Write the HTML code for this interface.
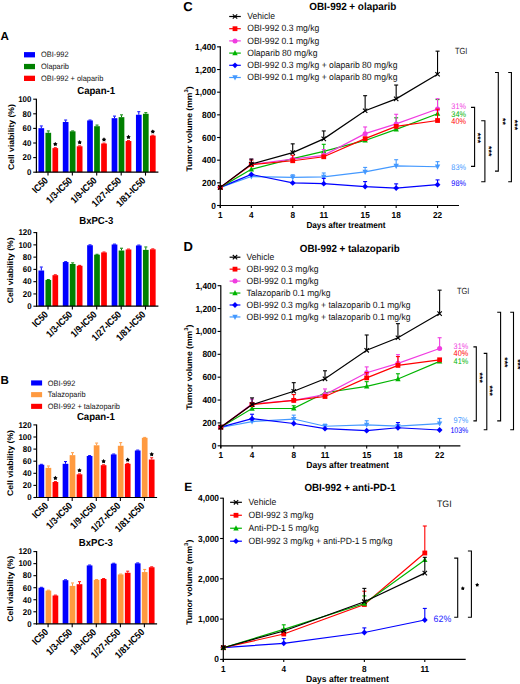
<!DOCTYPE html>
<html><head><meta charset="utf-8"><style>
html,body{margin:0;padding:0;background:#fff;width:520px;height:684px;overflow:hidden}
svg{display:block}
text{font-family:"Liberation Sans", sans-serif;text-rendering:geometricPrecision}
</style></head><body>
<svg width="520" height="684" viewBox="0 0 520 684">
<rect width="520" height="684" fill="#fff"/>
<text x="0" y="0" font-size="11.6" font-weight="bold" text-anchor="start" fill="#000" transform="translate(0.5 40.2) scale(1 1)">A</text>
<rect x="24" y="52.1" width="11" height="5.3" fill="#0000ff"/>
<text x="0" y="0" font-size="7.4" text-anchor="start" fill="#111" transform="translate(41 57.4) scale(1 1.06)">OBI-992</text>
<rect x="24" y="63.9" width="11" height="5.3" fill="#008000"/>
<text x="0" y="0" font-size="7.4" text-anchor="start" fill="#111" transform="translate(41 69.2) scale(1 1.06)">Olaparib</text>
<rect x="24" y="75.7" width="11" height="5.3" fill="#ff0000"/>
<text x="0" y="0" font-size="7.4" text-anchor="start" fill="#111" transform="translate(41 81) scale(1 1.06)">OBI-992 + olaparib</text>
<rect x="38.45" y="128.18" width="5.7" height="44.02" fill="#0000ff"/>
<line x1="41.3" y1="126.36" x2="41.3" y2="128.18" stroke="#0000ff" stroke-width="1"/>
<rect x="39.8" y="125.46" width="3" height="1" fill="#0000ff"/>
<rect x="45.45" y="132.78" width="5.7" height="39.42" fill="#008000"/>
<line x1="48.3" y1="131.32" x2="48.3" y2="132.78" stroke="#008000" stroke-width="1"/>
<rect x="46.8" y="130.42" width="3" height="1" fill="#008000"/>
<rect x="52.45" y="148.11" width="5.7" height="24.09" fill="#ff0000"/>
<rect x="53.8" y="147.21" width="3" height="1" fill="#ff0000"/>
<polygon points="55.3,141.91 56.11,143.09 57.49,143.5 56.61,144.64 56.65,146.07 55.3,145.59 53.95,146.07 53.99,144.64 53.11,143.5 54.49,143.09" fill="#000"/>
<rect x="62.8" y="121.98" width="5.7" height="50.22" fill="#0000ff"/>
<line x1="65.65" y1="120.44" x2="65.65" y2="121.98" stroke="#0000ff" stroke-width="1"/>
<rect x="64.15" y="119.54" width="3" height="1" fill="#0000ff"/>
<rect x="69.8" y="131.32" width="5.7" height="40.88" fill="#008000"/>
<rect x="71.15" y="130.42" width="3" height="1" fill="#008000"/>
<rect x="76.8" y="146.28" width="5.7" height="25.91" fill="#ff0000"/>
<rect x="78.15" y="145.38" width="3" height="1" fill="#ff0000"/>
<polygon points="79.65,140.08 80.46,141.27 81.84,141.67 80.96,142.81 81,144.25 79.65,143.76 78.3,144.25 78.34,142.81 77.46,141.67 78.84,141.27" fill="#000"/>
<rect x="87.15" y="120.44" width="5.7" height="51.76" fill="#0000ff"/>
<rect x="88.5" y="119.54" width="3" height="1" fill="#0000ff"/>
<rect x="94.15" y="126.21" width="5.7" height="45.99" fill="#008000"/>
<line x1="97" y1="125.48" x2="97" y2="126.21" stroke="#008000" stroke-width="1"/>
<rect x="95.5" y="124.58" width="3" height="1" fill="#008000"/>
<rect x="101.15" y="143.51" width="5.7" height="28.69" fill="#ff0000"/>
<rect x="102.5" y="142.61" width="3" height="1" fill="#ff0000"/>
<polygon points="104,137.31 104.81,138.49 106.19,138.9 105.31,140.04 105.35,141.47 104,140.99 102.65,141.47 102.69,140.04 101.81,138.9 103.19,138.49" fill="#000"/>
<rect x="111.65" y="118.18" width="5.7" height="54.02" fill="#0000ff"/>
<line x1="114.5" y1="116.5" x2="114.5" y2="118.18" stroke="#0000ff" stroke-width="1"/>
<rect x="113" y="115.6" width="3" height="1" fill="#0000ff"/>
<rect x="118.65" y="117.16" width="5.7" height="55.04" fill="#008000"/>
<line x1="121.5" y1="115.26" x2="121.5" y2="117.16" stroke="#008000" stroke-width="1"/>
<rect x="120" y="114.36" width="3" height="1" fill="#008000"/>
<rect x="125.65" y="141.03" width="5.7" height="31.17" fill="#ff0000"/>
<rect x="127" y="140.13" width="3" height="1" fill="#ff0000"/>
<polygon points="128.5,134.83 129.31,136.01 130.69,136.42 129.81,137.56 129.85,138.99 128.5,138.51 127.15,138.99 127.19,137.56 126.31,136.42 127.69,136.01" fill="#000"/>
<rect x="135.95" y="114.75" width="5.7" height="57.45" fill="#0000ff"/>
<line x1="138.8" y1="112.12" x2="138.8" y2="114.75" stroke="#0000ff" stroke-width="1"/>
<rect x="137.3" y="111.22" width="3" height="1" fill="#0000ff"/>
<rect x="142.95" y="113.8" width="5.7" height="58.4" fill="#008000"/>
<line x1="145.8" y1="113.07" x2="145.8" y2="113.8" stroke="#008000" stroke-width="1"/>
<rect x="144.3" y="112.17" width="3" height="1" fill="#008000"/>
<rect x="149.95" y="135.63" width="5.7" height="36.57" fill="#ff0000"/>
<rect x="151.3" y="134.73" width="3" height="1" fill="#ff0000"/>
<polygon points="152.8,129.43 153.61,130.61 154.99,131.02 154.11,132.15 154.15,133.59 152.8,133.11 151.45,133.59 151.49,132.15 150.61,131.02 151.99,130.61" fill="#000"/>
<line x1="36.4" y1="98.7" x2="36.4" y2="172.8" stroke="#000" stroke-width="1.2"/>
<line x1="35.8" y1="172.2" x2="158.4" y2="172.2" stroke="#000" stroke-width="1.2"/>
<line x1="33.2" y1="172.2" x2="36.4" y2="172.2" stroke="#000" stroke-width="1.1"/>
<text x="0" y="0" font-size="7.9" font-weight="bold" text-anchor="end" fill="#000" transform="translate(31.4 175) scale(1 1.06)">0</text>
<line x1="33.2" y1="157.6" x2="36.4" y2="157.6" stroke="#000" stroke-width="1.1"/>
<text x="0" y="0" font-size="7.9" font-weight="bold" text-anchor="end" fill="#000" transform="translate(31.4 160.4) scale(1 1.06)">20</text>
<line x1="33.2" y1="143" x2="36.4" y2="143" stroke="#000" stroke-width="1.1"/>
<text x="0" y="0" font-size="7.9" font-weight="bold" text-anchor="end" fill="#000" transform="translate(31.4 145.8) scale(1 1.06)">40</text>
<line x1="33.2" y1="128.4" x2="36.4" y2="128.4" stroke="#000" stroke-width="1.1"/>
<text x="0" y="0" font-size="7.9" font-weight="bold" text-anchor="end" fill="#000" transform="translate(31.4 131.2) scale(1 1.06)">60</text>
<line x1="33.2" y1="113.8" x2="36.4" y2="113.8" stroke="#000" stroke-width="1.1"/>
<text x="0" y="0" font-size="7.9" font-weight="bold" text-anchor="end" fill="#000" transform="translate(31.4 116.6) scale(1 1.06)">80</text>
<line x1="33.2" y1="99.2" x2="36.4" y2="99.2" stroke="#000" stroke-width="1.1"/>
<text x="0" y="0" font-size="7.9" font-weight="bold" text-anchor="end" fill="#000" transform="translate(31.4 102) scale(1 1.06)">100</text>
<line x1="48" y1="172.2" x2="48" y2="175.6" stroke="#000" stroke-width="1.1"/>
<text x="0" y="0" font-size="8.45" font-weight="bold" text-anchor="end" fill="#000" transform="translate(48.6 181.2) rotate(-45) scale(1 1.14)">IC50</text>
<line x1="72.35" y1="172.2" x2="72.35" y2="175.6" stroke="#000" stroke-width="1.1"/>
<text x="0" y="0" font-size="8.45" font-weight="bold" text-anchor="end" fill="#000" transform="translate(72.95 181.2) rotate(-45) scale(1 1.14)">1/3-IC50</text>
<line x1="96.7" y1="172.2" x2="96.7" y2="175.6" stroke="#000" stroke-width="1.1"/>
<text x="0" y="0" font-size="8.45" font-weight="bold" text-anchor="end" fill="#000" transform="translate(97.3 181.2) rotate(-45) scale(1 1.14)">1/9-IC50</text>
<line x1="121.2" y1="172.2" x2="121.2" y2="175.6" stroke="#000" stroke-width="1.1"/>
<text x="0" y="0" font-size="8.45" font-weight="bold" text-anchor="end" fill="#000" transform="translate(121.8 181.2) rotate(-45) scale(1 1.14)">1/27-IC50</text>
<line x1="145.5" y1="172.2" x2="145.5" y2="175.6" stroke="#000" stroke-width="1.1"/>
<text x="0" y="0" font-size="8.45" font-weight="bold" text-anchor="end" fill="#000" transform="translate(146.1 181.2) rotate(-45) scale(1 1.14)">1/81-IC50</text>
<text x="0" y="0" font-size="8.11" font-weight="bold" text-anchor="middle" fill="#000" transform="translate(14 137.1) scale(1 1.06) rotate(-90)">Cell viability (%)</text>
<text x="0" y="0" font-size="9.6" font-weight="bold" text-anchor="start" fill="#000" transform="translate(77.2 94.3) scale(1 1.06)">Capan-1</text>
<rect x="38.45" y="270.5" width="5.7" height="35.7" fill="#0000ff"/>
<line x1="41.3" y1="267.44" x2="41.3" y2="270.5" stroke="#0000ff" stroke-width="1"/>
<rect x="39.8" y="266.54" width="3" height="1" fill="#0000ff"/>
<rect x="45.45" y="279.95" width="5.7" height="26.25" fill="#008000"/>
<rect x="46.8" y="279.05" width="3" height="1" fill="#008000"/>
<rect x="52.45" y="275.17" width="5.7" height="31.03" fill="#ff0000"/>
<rect x="53.8" y="274.27" width="3" height="1" fill="#ff0000"/>
<rect x="62.8" y="262.04" width="5.7" height="44.16" fill="#0000ff"/>
<rect x="64.15" y="261.14" width="3" height="1" fill="#0000ff"/>
<rect x="69.8" y="264" width="5.7" height="42.2" fill="#008000"/>
<line x1="72.65" y1="263.27" x2="72.65" y2="264" stroke="#008000" stroke-width="1"/>
<rect x="71.15" y="262.37" width="3" height="1" fill="#008000"/>
<rect x="76.8" y="265.78" width="5.7" height="40.42" fill="#ff0000"/>
<rect x="78.15" y="264.88" width="3" height="1" fill="#ff0000"/>
<rect x="87.15" y="245.23" width="5.7" height="60.97" fill="#0000ff"/>
<rect x="88.5" y="244.33" width="3" height="1" fill="#0000ff"/>
<rect x="94.15" y="254.68" width="5.7" height="51.52" fill="#008000"/>
<rect x="95.5" y="253.78" width="3" height="1" fill="#008000"/>
<rect x="101.15" y="252.41" width="5.7" height="53.79" fill="#ff0000"/>
<rect x="102.5" y="251.51" width="3" height="1" fill="#ff0000"/>
<rect x="111.65" y="244.5" width="5.7" height="61.7" fill="#0000ff"/>
<rect x="113" y="243.6" width="3" height="1" fill="#0000ff"/>
<rect x="118.65" y="250.51" width="5.7" height="55.69" fill="#008000"/>
<line x1="121.5" y1="248.61" x2="121.5" y2="250.51" stroke="#008000" stroke-width="1"/>
<rect x="120" y="247.71" width="3" height="1" fill="#008000"/>
<rect x="125.65" y="249.47" width="5.7" height="56.73" fill="#ff0000"/>
<rect x="127" y="248.57" width="3" height="1" fill="#ff0000"/>
<rect x="135.95" y="245.48" width="5.7" height="60.72" fill="#0000ff"/>
<rect x="137.3" y="244.58" width="3" height="1" fill="#0000ff"/>
<rect x="142.95" y="249.9" width="5.7" height="56.3" fill="#008000"/>
<line x1="145.8" y1="247.38" x2="145.8" y2="249.9" stroke="#008000" stroke-width="1"/>
<rect x="144.3" y="246.48" width="3" height="1" fill="#008000"/>
<rect x="149.95" y="249.28" width="5.7" height="56.92" fill="#ff0000"/>
<rect x="151.3" y="248.38" width="3" height="1" fill="#ff0000"/>
<line x1="36.6" y1="232.1" x2="36.6" y2="306.8" stroke="#000" stroke-width="1.2"/>
<line x1="36" y1="306.2" x2="158.4" y2="306.2" stroke="#000" stroke-width="1.2"/>
<line x1="33.4" y1="306.2" x2="36.6" y2="306.2" stroke="#000" stroke-width="1.1"/>
<text x="0" y="0" font-size="7.9" font-weight="bold" text-anchor="end" fill="#000" transform="translate(31.6 309) scale(1 1.06)">0</text>
<line x1="33.4" y1="293.93" x2="36.6" y2="293.93" stroke="#000" stroke-width="1.1"/>
<text x="0" y="0" font-size="7.9" font-weight="bold" text-anchor="end" fill="#000" transform="translate(31.6 296.73) scale(1 1.06)">20</text>
<line x1="33.4" y1="281.67" x2="36.6" y2="281.67" stroke="#000" stroke-width="1.1"/>
<text x="0" y="0" font-size="7.9" font-weight="bold" text-anchor="end" fill="#000" transform="translate(31.6 284.47) scale(1 1.06)">40</text>
<line x1="33.4" y1="269.4" x2="36.6" y2="269.4" stroke="#000" stroke-width="1.1"/>
<text x="0" y="0" font-size="7.9" font-weight="bold" text-anchor="end" fill="#000" transform="translate(31.6 272.2) scale(1 1.06)">60</text>
<line x1="33.4" y1="257.13" x2="36.6" y2="257.13" stroke="#000" stroke-width="1.1"/>
<text x="0" y="0" font-size="7.9" font-weight="bold" text-anchor="end" fill="#000" transform="translate(31.6 259.93) scale(1 1.06)">80</text>
<line x1="33.4" y1="244.87" x2="36.6" y2="244.87" stroke="#000" stroke-width="1.1"/>
<text x="0" y="0" font-size="7.9" font-weight="bold" text-anchor="end" fill="#000" transform="translate(31.6 247.67) scale(1 1.06)">100</text>
<line x1="33.4" y1="232.6" x2="36.6" y2="232.6" stroke="#000" stroke-width="1.1"/>
<text x="0" y="0" font-size="7.9" font-weight="bold" text-anchor="end" fill="#000" transform="translate(31.6 235.4) scale(1 1.06)">120</text>
<line x1="48" y1="306.2" x2="48" y2="309.6" stroke="#000" stroke-width="1.1"/>
<text x="0" y="0" font-size="8.45" font-weight="bold" text-anchor="end" fill="#000" transform="translate(48.6 315.2) rotate(-45) scale(1 1.14)">IC50</text>
<line x1="72.35" y1="306.2" x2="72.35" y2="309.6" stroke="#000" stroke-width="1.1"/>
<text x="0" y="0" font-size="8.45" font-weight="bold" text-anchor="end" fill="#000" transform="translate(72.95 315.2) rotate(-45) scale(1 1.14)">1/3-IC50</text>
<line x1="96.7" y1="306.2" x2="96.7" y2="309.6" stroke="#000" stroke-width="1.1"/>
<text x="0" y="0" font-size="8.45" font-weight="bold" text-anchor="end" fill="#000" transform="translate(97.3 315.2) rotate(-45) scale(1 1.14)">1/9-IC50</text>
<line x1="121.2" y1="306.2" x2="121.2" y2="309.6" stroke="#000" stroke-width="1.1"/>
<text x="0" y="0" font-size="8.45" font-weight="bold" text-anchor="end" fill="#000" transform="translate(121.8 315.2) rotate(-45) scale(1 1.14)">1/27-IC50</text>
<line x1="145.5" y1="306.2" x2="145.5" y2="309.6" stroke="#000" stroke-width="1.1"/>
<text x="0" y="0" font-size="8.45" font-weight="bold" text-anchor="end" fill="#000" transform="translate(146.1 315.2) rotate(-45) scale(1 1.14)">1/81-IC50</text>
<text x="0" y="0" font-size="8.11" font-weight="bold" text-anchor="middle" fill="#000" transform="translate(13 270.4) scale(1 1.06) rotate(-90)">Cell viability (%)</text>
<text x="0" y="0" font-size="9.6" font-weight="bold" text-anchor="start" fill="#000" transform="translate(79.2 224.2) scale(1 1.06)">BxPC-3</text>
<text x="0" y="0" font-size="11.6" font-weight="bold" text-anchor="start" fill="#000" transform="translate(0.5 384.4) scale(1 1)">B</text>
<rect x="31.1" y="380.4" width="11" height="5.1" fill="#0000ff"/>
<text x="0" y="0" font-size="7.4" text-anchor="start" fill="#111" transform="translate(47.8 385.7) scale(1 1.06)">OBI-992</text>
<rect x="31.1" y="392.1" width="11" height="5.1" fill="#ff9a40"/>
<text x="0" y="0" font-size="7.4" text-anchor="start" fill="#111" transform="translate(47.8 397.4) scale(1 1.06)">Talazoparib</text>
<rect x="31.1" y="403.8" width="11" height="5.1" fill="#ff0000"/>
<text x="0" y="0" font-size="7.4" text-anchor="start" fill="#111" transform="translate(47.8 409.1) scale(1 1.06)">OBI-992 + talazoparib</text>
<rect x="38.55" y="464.71" width="5.7" height="32.79" fill="#0000ff"/>
<rect x="39.9" y="463.81" width="3" height="1" fill="#0000ff"/>
<rect x="45.55" y="467.86" width="5.7" height="29.64" fill="#ff9a40"/>
<line x1="48.4" y1="466.4" x2="48.4" y2="467.86" stroke="#ff9a40" stroke-width="1"/>
<rect x="46.9" y="465.5" width="3" height="1" fill="#ff9a40"/>
<rect x="52.55" y="482.01" width="5.7" height="15.49" fill="#ff0000"/>
<rect x="53.9" y="481.11" width="3" height="1" fill="#ff0000"/>
<polygon points="55.4,475.81 56.21,477 57.59,477.4 56.71,478.54 56.75,479.97 55.4,479.49 54.05,479.97 54.09,478.54 53.21,477.4 54.59,477" fill="#000"/>
<rect x="62.65" y="463.8" width="5.7" height="33.7" fill="#0000ff"/>
<line x1="65.5" y1="461.99" x2="65.5" y2="463.8" stroke="#0000ff" stroke-width="1"/>
<rect x="64" y="461.09" width="3" height="1" fill="#0000ff"/>
<rect x="69.65" y="455.15" width="5.7" height="42.35" fill="#ff9a40"/>
<line x1="72.5" y1="453.09" x2="72.5" y2="455.15" stroke="#ff9a40" stroke-width="1"/>
<rect x="71" y="452.19" width="3" height="1" fill="#ff9a40"/>
<rect x="76.65" y="474.33" width="5.7" height="23.17" fill="#ff0000"/>
<rect x="78" y="473.43" width="3" height="1" fill="#ff0000"/>
<polygon points="79.5,468.13 80.31,469.31 81.69,469.72 80.81,470.85 80.85,472.29 79.5,471.81 78.15,472.29 78.19,470.85 77.31,469.72 78.69,469.31" fill="#000"/>
<rect x="86.75" y="456" width="5.7" height="41.5" fill="#0000ff"/>
<rect x="88.1" y="455.1" width="3" height="1" fill="#0000ff"/>
<rect x="93.75" y="445.29" width="5.7" height="52.21" fill="#ff9a40"/>
<line x1="96.6" y1="443.47" x2="96.6" y2="445.29" stroke="#ff9a40" stroke-width="1"/>
<rect x="95.1" y="442.57" width="3" height="1" fill="#ff9a40"/>
<rect x="100.75" y="465.19" width="5.7" height="32.31" fill="#ff0000"/>
<rect x="102.1" y="464.29" width="3" height="1" fill="#ff0000"/>
<polygon points="103.6,458.99 104.41,460.18 105.79,460.58 104.91,461.72 104.95,463.15 103.6,462.67 102.25,463.15 102.29,461.72 101.41,460.58 102.79,460.18" fill="#000"/>
<rect x="110.85" y="454.42" width="5.7" height="43.08" fill="#0000ff"/>
<rect x="112.2" y="453.52" width="3" height="1" fill="#0000ff"/>
<rect x="117.85" y="445.77" width="5.7" height="51.73" fill="#ff9a40"/>
<line x1="120.7" y1="443.05" x2="120.7" y2="445.77" stroke="#ff9a40" stroke-width="1"/>
<rect x="119.2" y="442.15" width="3" height="1" fill="#ff9a40"/>
<rect x="124.85" y="463.8" width="5.7" height="33.7" fill="#ff0000"/>
<rect x="126.2" y="462.9" width="3" height="1" fill="#ff0000"/>
<polygon points="127.7,457.6 128.51,458.79 129.89,459.19 129.01,460.33 129.05,461.76 127.7,461.28 126.35,461.76 126.39,460.33 125.51,459.19 126.89,458.79" fill="#000"/>
<rect x="134.85" y="450.49" width="5.7" height="47.01" fill="#0000ff"/>
<rect x="136.2" y="449.59" width="3" height="1" fill="#0000ff"/>
<rect x="141.85" y="437.79" width="5.7" height="59.71" fill="#ff9a40"/>
<rect x="143.2" y="436.89" width="3" height="1" fill="#ff9a40"/>
<rect x="148.85" y="459.51" width="5.7" height="37.99" fill="#ff0000"/>
<line x1="151.7" y1="458.18" x2="151.7" y2="459.51" stroke="#ff0000" stroke-width="1"/>
<rect x="150.2" y="457.28" width="3" height="1" fill="#ff0000"/>
<polygon points="151.7,451.98 152.51,453.16 153.89,453.56 153.01,454.7 153.05,456.14 151.7,455.66 150.35,456.14 150.39,454.7 149.51,453.56 150.89,453.16" fill="#000"/>
<line x1="36.6" y1="424.4" x2="36.6" y2="498.1" stroke="#000" stroke-width="1.2"/>
<line x1="36" y1="497.5" x2="157.1" y2="497.5" stroke="#000" stroke-width="1.2"/>
<line x1="33.4" y1="497.5" x2="36.6" y2="497.5" stroke="#000" stroke-width="1.1"/>
<text x="0" y="0" font-size="7.9" font-weight="bold" text-anchor="end" fill="#000" transform="translate(31.6 500.3) scale(1 1.06)">0</text>
<line x1="33.4" y1="485.4" x2="36.6" y2="485.4" stroke="#000" stroke-width="1.1"/>
<text x="0" y="0" font-size="7.9" font-weight="bold" text-anchor="end" fill="#000" transform="translate(31.6 488.2) scale(1 1.06)">20</text>
<line x1="33.4" y1="473.3" x2="36.6" y2="473.3" stroke="#000" stroke-width="1.1"/>
<text x="0" y="0" font-size="7.9" font-weight="bold" text-anchor="end" fill="#000" transform="translate(31.6 476.1) scale(1 1.06)">40</text>
<line x1="33.4" y1="461.2" x2="36.6" y2="461.2" stroke="#000" stroke-width="1.1"/>
<text x="0" y="0" font-size="7.9" font-weight="bold" text-anchor="end" fill="#000" transform="translate(31.6 464) scale(1 1.06)">60</text>
<line x1="33.4" y1="449.1" x2="36.6" y2="449.1" stroke="#000" stroke-width="1.1"/>
<text x="0" y="0" font-size="7.9" font-weight="bold" text-anchor="end" fill="#000" transform="translate(31.6 451.9) scale(1 1.06)">80</text>
<line x1="33.4" y1="437" x2="36.6" y2="437" stroke="#000" stroke-width="1.1"/>
<text x="0" y="0" font-size="7.9" font-weight="bold" text-anchor="end" fill="#000" transform="translate(31.6 439.8) scale(1 1.06)">100</text>
<line x1="33.4" y1="424.9" x2="36.6" y2="424.9" stroke="#000" stroke-width="1.1"/>
<text x="0" y="0" font-size="7.9" font-weight="bold" text-anchor="end" fill="#000" transform="translate(31.6 427.7) scale(1 1.06)">120</text>
<line x1="48.1" y1="497.5" x2="48.1" y2="500.9" stroke="#000" stroke-width="1.1"/>
<text x="0" y="0" font-size="8.45" font-weight="bold" text-anchor="end" fill="#000" transform="translate(48.7 506.5) rotate(-45) scale(1 1.14)">IC50</text>
<line x1="72.2" y1="497.5" x2="72.2" y2="500.9" stroke="#000" stroke-width="1.1"/>
<text x="0" y="0" font-size="8.45" font-weight="bold" text-anchor="end" fill="#000" transform="translate(72.8 506.5) rotate(-45) scale(1 1.14)">1/3-IC50</text>
<line x1="96.3" y1="497.5" x2="96.3" y2="500.9" stroke="#000" stroke-width="1.1"/>
<text x="0" y="0" font-size="8.45" font-weight="bold" text-anchor="end" fill="#000" transform="translate(96.9 506.5) rotate(-45) scale(1 1.14)">1/9-IC50</text>
<line x1="120.4" y1="497.5" x2="120.4" y2="500.9" stroke="#000" stroke-width="1.1"/>
<text x="0" y="0" font-size="8.45" font-weight="bold" text-anchor="end" fill="#000" transform="translate(121 506.5) rotate(-45) scale(1 1.14)">1/27-IC50</text>
<line x1="144.4" y1="497.5" x2="144.4" y2="500.9" stroke="#000" stroke-width="1.1"/>
<text x="0" y="0" font-size="8.45" font-weight="bold" text-anchor="end" fill="#000" transform="translate(145 506.5) rotate(-45) scale(1 1.14)">1/81-IC50</text>
<text x="0" y="0" font-size="8.11" font-weight="bold" text-anchor="middle" fill="#000" transform="translate(13 463) scale(1 1.06) rotate(-90)">Cell viability (%)</text>
<text x="0" y="0" font-size="9.6" font-weight="bold" text-anchor="start" fill="#000" transform="translate(76.9 420.4) scale(1 1.06)">Capan-1</text>
<rect x="38.55" y="587.7" width="5.7" height="36.1" fill="#0000ff"/>
<rect x="39.9" y="586.8" width="3" height="1" fill="#0000ff"/>
<rect x="45.55" y="590.59" width="5.7" height="33.21" fill="#ff9a40"/>
<rect x="46.9" y="589.69" width="3" height="1" fill="#ff9a40"/>
<rect x="52.55" y="595.52" width="5.7" height="28.28" fill="#ff0000"/>
<rect x="53.9" y="594.62" width="3" height="1" fill="#ff0000"/>
<rect x="62.65" y="580.18" width="5.7" height="43.62" fill="#0000ff"/>
<rect x="64" y="579.28" width="3" height="1" fill="#0000ff"/>
<rect x="69.65" y="585.89" width="5.7" height="37.9" fill="#ff9a40"/>
<line x1="72.5" y1="583.37" x2="72.5" y2="585.89" stroke="#ff9a40" stroke-width="1"/>
<rect x="71" y="582.47" width="3" height="1" fill="#ff9a40"/>
<rect x="76.65" y="584.21" width="5.7" height="39.59" fill="#ff0000"/>
<line x1="79.5" y1="582.1" x2="79.5" y2="584.21" stroke="#ff0000" stroke-width="1"/>
<rect x="78" y="581.2" width="3" height="1" fill="#ff0000"/>
<rect x="86.75" y="565.44" width="5.7" height="58.36" fill="#0000ff"/>
<rect x="88.1" y="564.54" width="3" height="1" fill="#0000ff"/>
<rect x="93.75" y="579.88" width="5.7" height="43.92" fill="#ff9a40"/>
<rect x="95.1" y="578.98" width="3" height="1" fill="#ff9a40"/>
<rect x="100.75" y="578.98" width="5.7" height="44.82" fill="#ff0000"/>
<rect x="102.1" y="578.08" width="3" height="1" fill="#ff0000"/>
<rect x="110.85" y="563.63" width="5.7" height="60.17" fill="#0000ff"/>
<rect x="112.2" y="562.73" width="3" height="1" fill="#0000ff"/>
<rect x="117.85" y="574.46" width="5.7" height="49.34" fill="#ff9a40"/>
<rect x="119.2" y="573.56" width="3" height="1" fill="#ff9a40"/>
<rect x="124.85" y="572.78" width="5.7" height="51.02" fill="#ff0000"/>
<line x1="127.7" y1="571.58" x2="127.7" y2="572.78" stroke="#ff0000" stroke-width="1"/>
<rect x="126.2" y="570.68" width="3" height="1" fill="#ff0000"/>
<rect x="134.85" y="563.33" width="5.7" height="60.47" fill="#0000ff"/>
<rect x="136.2" y="562.43" width="3" height="1" fill="#0000ff"/>
<rect x="141.85" y="572.06" width="5.7" height="51.74" fill="#ff9a40"/>
<line x1="144.7" y1="569.83" x2="144.7" y2="572.06" stroke="#ff9a40" stroke-width="1"/>
<rect x="143.2" y="568.93" width="3" height="1" fill="#ff9a40"/>
<rect x="148.85" y="567.24" width="5.7" height="56.56" fill="#ff0000"/>
<rect x="150.2" y="566.34" width="3" height="1" fill="#ff0000"/>
<line x1="36.6" y1="551.1" x2="36.6" y2="624.4" stroke="#000" stroke-width="1.2"/>
<line x1="36" y1="623.8" x2="157.1" y2="623.8" stroke="#000" stroke-width="1.2"/>
<line x1="33.4" y1="623.8" x2="36.6" y2="623.8" stroke="#000" stroke-width="1.1"/>
<text x="0" y="0" font-size="7.9" font-weight="bold" text-anchor="end" fill="#000" transform="translate(31.6 626.6) scale(1 1.06)">0</text>
<line x1="33.4" y1="611.77" x2="36.6" y2="611.77" stroke="#000" stroke-width="1.1"/>
<text x="0" y="0" font-size="7.9" font-weight="bold" text-anchor="end" fill="#000" transform="translate(31.6 614.57) scale(1 1.06)">20</text>
<line x1="33.4" y1="599.73" x2="36.6" y2="599.73" stroke="#000" stroke-width="1.1"/>
<text x="0" y="0" font-size="7.9" font-weight="bold" text-anchor="end" fill="#000" transform="translate(31.6 602.53) scale(1 1.06)">40</text>
<line x1="33.4" y1="587.7" x2="36.6" y2="587.7" stroke="#000" stroke-width="1.1"/>
<text x="0" y="0" font-size="7.9" font-weight="bold" text-anchor="end" fill="#000" transform="translate(31.6 590.5) scale(1 1.06)">60</text>
<line x1="33.4" y1="575.67" x2="36.6" y2="575.67" stroke="#000" stroke-width="1.1"/>
<text x="0" y="0" font-size="7.9" font-weight="bold" text-anchor="end" fill="#000" transform="translate(31.6 578.47) scale(1 1.06)">80</text>
<line x1="33.4" y1="563.63" x2="36.6" y2="563.63" stroke="#000" stroke-width="1.1"/>
<text x="0" y="0" font-size="7.9" font-weight="bold" text-anchor="end" fill="#000" transform="translate(31.6 566.43) scale(1 1.06)">100</text>
<line x1="33.4" y1="551.6" x2="36.6" y2="551.6" stroke="#000" stroke-width="1.1"/>
<text x="0" y="0" font-size="7.9" font-weight="bold" text-anchor="end" fill="#000" transform="translate(31.6 554.4) scale(1 1.06)">120</text>
<line x1="48.1" y1="623.8" x2="48.1" y2="627.2" stroke="#000" stroke-width="1.1"/>
<text x="0" y="0" font-size="8.45" font-weight="bold" text-anchor="end" fill="#000" transform="translate(48.7 632.8) rotate(-45) scale(1 1.14)">IC50</text>
<line x1="72.2" y1="623.8" x2="72.2" y2="627.2" stroke="#000" stroke-width="1.1"/>
<text x="0" y="0" font-size="8.45" font-weight="bold" text-anchor="end" fill="#000" transform="translate(72.8 632.8) rotate(-45) scale(1 1.14)">1/3-IC50</text>
<line x1="96.3" y1="623.8" x2="96.3" y2="627.2" stroke="#000" stroke-width="1.1"/>
<text x="0" y="0" font-size="8.45" font-weight="bold" text-anchor="end" fill="#000" transform="translate(96.9 632.8) rotate(-45) scale(1 1.14)">1/9-IC50</text>
<line x1="120.4" y1="623.8" x2="120.4" y2="627.2" stroke="#000" stroke-width="1.1"/>
<text x="0" y="0" font-size="8.45" font-weight="bold" text-anchor="end" fill="#000" transform="translate(121 632.8) rotate(-45) scale(1 1.14)">1/27-IC50</text>
<line x1="144.4" y1="623.8" x2="144.4" y2="627.2" stroke="#000" stroke-width="1.1"/>
<text x="0" y="0" font-size="8.45" font-weight="bold" text-anchor="end" fill="#000" transform="translate(145 632.8) rotate(-45) scale(1 1.14)">1/81-IC50</text>
<text x="0" y="0" font-size="8.11" font-weight="bold" text-anchor="middle" fill="#000" transform="translate(13 588.9) scale(1 1.06) rotate(-90)">Cell viability (%)</text>
<text x="0" y="0" font-size="9.6" font-weight="bold" text-anchor="start" fill="#000" transform="translate(78.8 546.2) scale(1 1.06)">BxPC-3</text>
<text x="0" y="0" font-size="13" font-weight="bold" text-anchor="start" fill="#000" transform="translate(183.2 10.6) scale(1 1)">C</text>
<text x="0" y="0" font-size="9.9" font-weight="bold" text-anchor="middle" fill="#000" transform="translate(352.8 10.4) scale(1 1.06)">OBI-992 + olaparib</text>
<line x1="229.2" y1="16.5" x2="240.8" y2="16.5" stroke="#000000" stroke-width="1.2"/>
<path d="M232.8 14.3L237.2 18.7M232.8 18.7L237.2 14.3" stroke="#000000" stroke-width="1.1" fill="none"/>
<text x="0" y="0" font-size="8.6" text-anchor="start" fill="#111" transform="translate(247.2 19.2) scale(1 1.06)">Vehicle</text>
<line x1="229.2" y1="28.7" x2="240.8" y2="28.7" stroke="#ff0000" stroke-width="1.2"/>
<rect x="232.6" y="26.3" width="4.8" height="4.8" fill="#ff0000"/>
<text x="0" y="0" font-size="8.6" text-anchor="start" fill="#111" transform="translate(247.2 31.4) scale(1 1.06)">OBI-992 0.3 mg/kg</text>
<line x1="229.2" y1="40.9" x2="240.8" y2="40.9" stroke="#f03ce0" stroke-width="1.2"/>
<circle cx="235" cy="40.9" r="2.5" fill="#f03ce0"/>
<text x="0" y="0" font-size="8.6" text-anchor="start" fill="#111" transform="translate(247.2 43.6) scale(1 1.06)">OBI-992 0.1 mg/kg</text>
<line x1="229.2" y1="53.1" x2="240.8" y2="53.1" stroke="#00b400" stroke-width="1.2"/>
<path d="M235 50.1L237.7 55.26L232.3 55.26Z" fill="#00b400"/>
<text x="0" y="0" font-size="8.6" text-anchor="start" fill="#111" transform="translate(247.2 55.8) scale(1 1.06)">Olaparib 80 mg/kg</text>
<line x1="229.2" y1="65.3" x2="240.8" y2="65.3" stroke="#0000ff" stroke-width="1.2"/>
<path d="M235 62.4L237.9 65.3L235 68.2L232.1 65.3Z" fill="#0000ff"/>
<text x="0" y="0" font-size="8.6" text-anchor="start" fill="#111" transform="translate(247.2 68) scale(1 1.06)">OBI-992 0.3 mg/kg + olaparib 80 mg/kg</text>
<line x1="229.2" y1="77.5" x2="240.8" y2="77.5" stroke="#4499ff" stroke-width="1.2"/>
<path d="M235 80.5L237.7 75.34L232.3 75.34Z" fill="#4499ff"/>
<text x="0" y="0" font-size="8.6" text-anchor="start" fill="#111" transform="translate(247.2 80.2) scale(1 1.06)">OBI-992 0.1 mg/kg + olaparib 80 mg/kg</text>
<path d="M220.3 187.37 L251.34 176.49 L292.72 177.4 L323.75 176.83 L365.13 171.96 L396.17 165.95 L437.55 166.74" stroke="#4499ff" stroke-width="1.2" fill="none"/>
<line x1="292.72" y1="174.79" x2="292.72" y2="177.4" stroke="#4499ff" stroke-width="1.1"/>
<line x1="290.72" y1="174.79" x2="294.72" y2="174.79" stroke="#4499ff" stroke-width="1.1"/>
<line x1="323.75" y1="172.98" x2="323.75" y2="176.83" stroke="#4499ff" stroke-width="1.1"/>
<line x1="321.75" y1="172.98" x2="325.75" y2="172.98" stroke="#4499ff" stroke-width="1.1"/>
<line x1="365.13" y1="167.42" x2="365.13" y2="171.96" stroke="#4499ff" stroke-width="1.1"/>
<line x1="363.13" y1="167.42" x2="367.13" y2="167.42" stroke="#4499ff" stroke-width="1.1"/>
<line x1="396.17" y1="159.72" x2="396.17" y2="165.95" stroke="#4499ff" stroke-width="1.1"/>
<line x1="394.17" y1="159.72" x2="398.17" y2="159.72" stroke="#4499ff" stroke-width="1.1"/>
<line x1="437.55" y1="161.65" x2="437.55" y2="166.74" stroke="#4499ff" stroke-width="1.1"/>
<line x1="435.55" y1="161.65" x2="439.55" y2="161.65" stroke="#4499ff" stroke-width="1.1"/>
<path d="M220.3 190.37L223 185.21L217.6 185.21Z" fill="#4499ff"/>
<path d="M251.34 179.49L254.03 174.33L248.64 174.33Z" fill="#4499ff"/>
<path d="M292.72 180.4L295.42 175.24L290.02 175.24Z" fill="#4499ff"/>
<path d="M323.75 179.83L326.45 174.67L321.05 174.67Z" fill="#4499ff"/>
<path d="M365.13 174.96L367.83 169.8L362.43 169.8Z" fill="#4499ff"/>
<path d="M396.17 168.95L398.87 163.79L393.47 163.79Z" fill="#4499ff"/>
<path d="M437.55 169.74L440.25 164.58L434.85 164.58Z" fill="#4499ff"/>
<path d="M220.3 187.37 L251.34 174.45 L292.72 182.95 L323.75 183.63 L365.13 186.58 L396.17 188.05 L437.55 184.65" stroke="#0000ff" stroke-width="1.2" fill="none"/>
<line x1="323.75" y1="178.42" x2="323.75" y2="183.63" stroke="#0000ff" stroke-width="1.1"/>
<line x1="321.75" y1="178.42" x2="325.75" y2="178.42" stroke="#0000ff" stroke-width="1.1"/>
<line x1="365.13" y1="181.59" x2="365.13" y2="186.58" stroke="#0000ff" stroke-width="1.1"/>
<line x1="363.13" y1="181.59" x2="367.13" y2="181.59" stroke="#0000ff" stroke-width="1.1"/>
<line x1="396.17" y1="183.86" x2="396.17" y2="188.05" stroke="#0000ff" stroke-width="1.1"/>
<line x1="394.17" y1="183.86" x2="398.17" y2="183.86" stroke="#0000ff" stroke-width="1.1"/>
<line x1="437.55" y1="179.89" x2="437.55" y2="184.65" stroke="#0000ff" stroke-width="1.1"/>
<line x1="435.55" y1="179.89" x2="439.55" y2="179.89" stroke="#0000ff" stroke-width="1.1"/>
<path d="M220.3 184.47L223.2 187.37L220.3 190.27L217.4 187.37Z" fill="#0000ff"/>
<path d="M251.34 171.55L254.24 174.45L251.34 177.35L248.44 174.45Z" fill="#0000ff"/>
<path d="M292.72 180.05L295.62 182.95L292.72 185.85L289.82 182.95Z" fill="#0000ff"/>
<path d="M323.75 180.73L326.65 183.63L323.75 186.53L320.85 183.63Z" fill="#0000ff"/>
<path d="M365.13 183.68L368.03 186.58L365.13 189.48L362.23 186.58Z" fill="#0000ff"/>
<path d="M396.17 185.15L399.06 188.05L396.17 190.95L393.27 188.05Z" fill="#0000ff"/>
<path d="M437.55 181.75L440.44 184.65L437.55 187.55L434.65 184.65Z" fill="#0000ff"/>
<path d="M220.3 187.37 L251.34 169.35 L292.72 158.7 L323.75 151.45 L365.13 140.45 L396.17 129.35 L437.55 113.71" stroke="#00b400" stroke-width="1.2" fill="none"/>
<line x1="323.75" y1="144.31" x2="323.75" y2="151.45" stroke="#00b400" stroke-width="1.1"/>
<line x1="321.75" y1="144.31" x2="325.75" y2="144.31" stroke="#00b400" stroke-width="1.1"/>
<line x1="396.17" y1="117.79" x2="396.17" y2="129.35" stroke="#00b400" stroke-width="1.1"/>
<line x1="394.17" y1="117.79" x2="398.17" y2="117.79" stroke="#00b400" stroke-width="1.1"/>
<line x1="437.55" y1="99.55" x2="437.55" y2="113.71" stroke="#00b400" stroke-width="1.1"/>
<line x1="435.55" y1="99.55" x2="439.55" y2="99.55" stroke="#00b400" stroke-width="1.1"/>
<path d="M220.3 184.37L223 189.53L217.6 189.53Z" fill="#00b400"/>
<path d="M251.34 166.35L254.03 171.51L248.64 171.51Z" fill="#00b400"/>
<path d="M292.72 155.7L295.42 160.86L290.02 160.86Z" fill="#00b400"/>
<path d="M323.75 148.45L326.45 153.61L321.05 153.61Z" fill="#00b400"/>
<path d="M365.13 137.45L367.83 142.61L362.43 142.61Z" fill="#00b400"/>
<path d="M396.17 126.35L398.87 131.51L393.47 131.51Z" fill="#00b400"/>
<path d="M437.55 110.71L440.25 115.87L434.85 115.87Z" fill="#00b400"/>
<path d="M220.3 187.37 L251.34 164.36 L292.72 159.04 L323.75 155.3 L365.13 133.66 L396.17 123.91 L437.55 108.95" stroke="#f03ce0" stroke-width="1.2" fill="none"/>
<line x1="251.34" y1="159.27" x2="251.34" y2="164.36" stroke="#f03ce0" stroke-width="1.1"/>
<line x1="249.34" y1="159.27" x2="253.34" y2="159.27" stroke="#f03ce0" stroke-width="1.1"/>
<line x1="323.75" y1="149.52" x2="323.75" y2="155.3" stroke="#f03ce0" stroke-width="1.1"/>
<line x1="321.75" y1="149.52" x2="325.75" y2="149.52" stroke="#f03ce0" stroke-width="1.1"/>
<line x1="365.13" y1="126.97" x2="365.13" y2="133.66" stroke="#f03ce0" stroke-width="1.1"/>
<line x1="363.13" y1="126.97" x2="367.13" y2="126.97" stroke="#f03ce0" stroke-width="1.1"/>
<line x1="396.17" y1="114.28" x2="396.17" y2="123.91" stroke="#f03ce0" stroke-width="1.1"/>
<line x1="394.17" y1="114.28" x2="398.17" y2="114.28" stroke="#f03ce0" stroke-width="1.1"/>
<line x1="437.55" y1="98.75" x2="437.55" y2="108.95" stroke="#f03ce0" stroke-width="1.1"/>
<line x1="435.55" y1="98.75" x2="439.55" y2="98.75" stroke="#f03ce0" stroke-width="1.1"/>
<circle cx="220.3" cy="187.37" r="2.5" fill="#f03ce0"/>
<circle cx="251.34" cy="164.36" r="2.5" fill="#f03ce0"/>
<circle cx="292.72" cy="159.04" r="2.5" fill="#f03ce0"/>
<circle cx="323.75" cy="155.3" r="2.5" fill="#f03ce0"/>
<circle cx="365.13" cy="133.66" r="2.5" fill="#f03ce0"/>
<circle cx="396.17" cy="123.91" r="2.5" fill="#f03ce0"/>
<circle cx="437.55" cy="108.95" r="2.5" fill="#f03ce0"/>
<path d="M220.3 187.37 L251.34 164.7 L292.72 160.74 L323.75 156.77 L365.13 138.64 L396.17 126.4 L437.55 120.51" stroke="#ff0000" stroke-width="1.2" fill="none"/>
<line x1="251.34" y1="160.17" x2="251.34" y2="164.7" stroke="#ff0000" stroke-width="1.1"/>
<line x1="249.34" y1="160.17" x2="253.34" y2="160.17" stroke="#ff0000" stroke-width="1.1"/>
<line x1="292.72" y1="155.3" x2="292.72" y2="160.74" stroke="#ff0000" stroke-width="1.1"/>
<line x1="290.72" y1="155.3" x2="294.72" y2="155.3" stroke="#ff0000" stroke-width="1.1"/>
<line x1="437.55" y1="109.18" x2="437.55" y2="120.51" stroke="#ff0000" stroke-width="1.1"/>
<line x1="435.55" y1="109.18" x2="439.55" y2="109.18" stroke="#ff0000" stroke-width="1.1"/>
<rect x="217.9" y="184.97" width="4.8" height="4.8" fill="#ff0000"/>
<rect x="248.94" y="162.3" width="4.8" height="4.8" fill="#ff0000"/>
<rect x="290.32" y="158.34" width="4.8" height="4.8" fill="#ff0000"/>
<rect x="321.35" y="154.37" width="4.8" height="4.8" fill="#ff0000"/>
<rect x="362.73" y="136.24" width="4.8" height="4.8" fill="#ff0000"/>
<rect x="393.77" y="124" width="4.8" height="4.8" fill="#ff0000"/>
<rect x="435.15" y="118.11" width="4.8" height="4.8" fill="#ff0000"/>
<path d="M220.3 187.37 L251.34 164.02 L292.72 152.58 L323.75 138.87 L365.13 110.76 L396.17 98.87 L437.55 74.28" stroke="#000000" stroke-width="1.2" fill="none"/>
<line x1="251.34" y1="159.04" x2="251.34" y2="164.02" stroke="#000000" stroke-width="1.1"/>
<line x1="249.34" y1="159.04" x2="253.34" y2="159.04" stroke="#000000" stroke-width="1.1"/>
<line x1="292.72" y1="143.85" x2="292.72" y2="152.58" stroke="#000000" stroke-width="1.1"/>
<line x1="290.72" y1="143.85" x2="294.72" y2="143.85" stroke="#000000" stroke-width="1.1"/>
<line x1="323.75" y1="130.94" x2="323.75" y2="138.87" stroke="#000000" stroke-width="1.1"/>
<line x1="321.75" y1="130.94" x2="325.75" y2="130.94" stroke="#000000" stroke-width="1.1"/>
<line x1="365.13" y1="95.69" x2="365.13" y2="110.76" stroke="#000000" stroke-width="1.1"/>
<line x1="363.13" y1="95.69" x2="367.13" y2="95.69" stroke="#000000" stroke-width="1.1"/>
<line x1="396.17" y1="85.04" x2="396.17" y2="98.87" stroke="#000000" stroke-width="1.1"/>
<line x1="394.17" y1="85.04" x2="398.17" y2="85.04" stroke="#000000" stroke-width="1.1"/>
<line x1="437.55" y1="51.16" x2="437.55" y2="74.28" stroke="#000000" stroke-width="1.1"/>
<line x1="435.55" y1="51.16" x2="439.55" y2="51.16" stroke="#000000" stroke-width="1.1"/>
<path d="M218.1 185.17L222.5 189.57M218.1 189.57L222.5 185.17" stroke="#000000" stroke-width="1.1" fill="none"/>
<path d="M249.14 161.82L253.53 166.22M249.14 166.22L253.53 161.82" stroke="#000000" stroke-width="1.1" fill="none"/>
<path d="M290.52 150.38L294.92 154.78M290.52 154.78L294.92 150.38" stroke="#000000" stroke-width="1.1" fill="none"/>
<path d="M321.55 136.67L325.95 141.07M321.55 141.07L325.95 136.67" stroke="#000000" stroke-width="1.1" fill="none"/>
<path d="M362.93 108.56L367.33 112.96M362.93 112.96L367.33 108.56" stroke="#000000" stroke-width="1.1" fill="none"/>
<path d="M393.97 96.67L398.37 101.07M393.97 101.07L398.37 96.67" stroke="#000000" stroke-width="1.1" fill="none"/>
<path d="M435.35 72.08L439.75 76.48M435.35 76.48L439.75 72.08" stroke="#000000" stroke-width="1.1" fill="none"/>
<line x1="220.3" y1="46.35" x2="220.3" y2="208" stroke="#000" stroke-width="1.2"/>
<line x1="219.7" y1="205.5" x2="459" y2="205.5" stroke="#000" stroke-width="1.2"/>
<line x1="217.1" y1="205.5" x2="220.3" y2="205.5" stroke="#000" stroke-width="1.1"/>
<text x="0" y="0" font-size="8.4" font-weight="bold" text-anchor="end" fill="#000" transform="translate(216 208.5) scale(1 1.06)">0</text>
<line x1="217.1" y1="182.84" x2="220.3" y2="182.84" stroke="#000" stroke-width="1.1"/>
<text x="0" y="0" font-size="8.4" font-weight="bold" text-anchor="end" fill="#000" transform="translate(216 185.84) scale(1 1.06)">200</text>
<line x1="217.1" y1="160.17" x2="220.3" y2="160.17" stroke="#000" stroke-width="1.1"/>
<text x="0" y="0" font-size="8.4" font-weight="bold" text-anchor="end" fill="#000" transform="translate(216 163.17) scale(1 1.06)">400</text>
<line x1="217.1" y1="137.51" x2="220.3" y2="137.51" stroke="#000" stroke-width="1.1"/>
<text x="0" y="0" font-size="8.4" font-weight="bold" text-anchor="end" fill="#000" transform="translate(216 140.51) scale(1 1.06)">600</text>
<line x1="217.1" y1="114.84" x2="220.3" y2="114.84" stroke="#000" stroke-width="1.1"/>
<text x="0" y="0" font-size="8.4" font-weight="bold" text-anchor="end" fill="#000" transform="translate(216 117.84) scale(1 1.06)">800</text>
<line x1="217.1" y1="92.18" x2="220.3" y2="92.18" stroke="#000" stroke-width="1.1"/>
<text x="0" y="0" font-size="8.4" font-weight="bold" text-anchor="end" fill="#000" transform="translate(216 95.18) scale(1 1.06)">1,000</text>
<line x1="217.1" y1="69.52" x2="220.3" y2="69.52" stroke="#000" stroke-width="1.1"/>
<text x="0" y="0" font-size="8.4" font-weight="bold" text-anchor="end" fill="#000" transform="translate(216 72.52) scale(1 1.06)">1,200</text>
<line x1="217.1" y1="46.85" x2="220.3" y2="46.85" stroke="#000" stroke-width="1.1"/>
<text x="0" y="0" font-size="8.4" font-weight="bold" text-anchor="end" fill="#000" transform="translate(216 49.85) scale(1 1.06)">1,400</text>
<line x1="220.3" y1="205.5" x2="220.3" y2="208.1" stroke="#000" stroke-width="1.1"/>
<text x="0" y="0" font-size="8.2" font-weight="bold" text-anchor="middle" fill="#000" transform="translate(220.3 217.8) scale(1 1.06)">1</text>
<line x1="251.34" y1="205.5" x2="251.34" y2="208.1" stroke="#000" stroke-width="1.1"/>
<text x="0" y="0" font-size="8.2" font-weight="bold" text-anchor="middle" fill="#000" transform="translate(251.34 217.8) scale(1 1.06)">4</text>
<line x1="292.72" y1="205.5" x2="292.72" y2="208.1" stroke="#000" stroke-width="1.1"/>
<text x="0" y="0" font-size="8.2" font-weight="bold" text-anchor="middle" fill="#000" transform="translate(292.72 217.8) scale(1 1.06)">8</text>
<line x1="323.75" y1="205.5" x2="323.75" y2="208.1" stroke="#000" stroke-width="1.1"/>
<text x="0" y="0" font-size="8.2" font-weight="bold" text-anchor="middle" fill="#000" transform="translate(323.75 217.8) scale(1 1.06)">11</text>
<line x1="365.13" y1="205.5" x2="365.13" y2="208.1" stroke="#000" stroke-width="1.1"/>
<text x="0" y="0" font-size="8.2" font-weight="bold" text-anchor="middle" fill="#000" transform="translate(365.13 217.8) scale(1 1.06)">15</text>
<line x1="396.17" y1="205.5" x2="396.17" y2="208.1" stroke="#000" stroke-width="1.1"/>
<text x="0" y="0" font-size="8.2" font-weight="bold" text-anchor="middle" fill="#000" transform="translate(396.17 217.8) scale(1 1.06)">18</text>
<line x1="437.55" y1="205.5" x2="437.55" y2="208.1" stroke="#000" stroke-width="1.1"/>
<text x="0" y="0" font-size="8.2" font-weight="bold" text-anchor="middle" fill="#000" transform="translate(437.55 217.8) scale(1 1.06)">22</text>
<text x="0" y="0" font-size="8.11" font-weight="bold" text-anchor="middle" fill="#000" transform="translate(191.6 129) scale(1 1.06) rotate(-90)">Tumor volume (mm<tspan font-size="5.6" dy="-3.2">3</tspan><tspan dy="3.2">)</tspan></text>
<text x="0" y="0" font-size="8.2" font-weight="bold" text-anchor="middle" fill="#000" transform="translate(346 227.7) scale(1 1.06)">Days after treatment</text>
<text x="0" y="0" font-size="8.5" text-anchor="start" fill="#222" transform="translate(455 54.3) scale(1 1.06)" textLength="12.4" lengthAdjust="spacingAndGlyphs">TGI</text>
<text x="0" y="0" font-size="7.8" text-anchor="start" fill="#f03ce0" transform="translate(451.3 109.2) scale(1 1.06)" textLength="14.7" lengthAdjust="spacingAndGlyphs">31%</text>
<text x="0" y="0" font-size="7.8" text-anchor="start" fill="#00b400" transform="translate(451.3 116.9) scale(1 1.06)" textLength="14.7" lengthAdjust="spacingAndGlyphs">34%</text>
<text x="0" y="0" font-size="7.8" text-anchor="start" fill="#ff0000" transform="translate(451.3 124.2) scale(1 1.06)" textLength="14.7" lengthAdjust="spacingAndGlyphs">40%</text>
<text x="0" y="0" font-size="7.8" text-anchor="start" fill="#4499ff" transform="translate(451.3 169.7) scale(1 1.06)" textLength="14.7" lengthAdjust="spacingAndGlyphs">83%</text>
<text x="0" y="0" font-size="7.8" text-anchor="start" fill="#0000ff" transform="translate(451.3 185.7) scale(1 1.06)" textLength="14.7" lengthAdjust="spacingAndGlyphs">98%</text>
<path d="M471 107.4H474.6V166.4H471" stroke="#000" stroke-width="1.1" fill="none"/>
<text x="0" y="0" font-size="8.3" font-weight="bold" text-anchor="middle" fill="#000" transform="translate(475.2 138) scale(1 1.06) rotate(90)">***</text>
<path d="M481.2 120.8H484.9V181.8H481.2" stroke="#000" stroke-width="1.1" fill="none"/>
<text x="0" y="0" font-size="8.3" font-weight="bold" text-anchor="middle" fill="#000" transform="translate(485.6 151.2) scale(1 1.06) rotate(90)">***</text>
<path d="M495 72.5H498.3V171.1H495" stroke="#000" stroke-width="1.1" fill="none"/>
<text x="0" y="0" font-size="8.3" font-weight="bold" text-anchor="middle" fill="#000" transform="translate(500.1 121.5) scale(1 1.06) rotate(90)">**</text>
<path d="M508.2 72.5H511.4V181.8H508.2" stroke="#000" stroke-width="1.1" fill="none"/>
<text x="0" y="0" font-size="8.3" font-weight="bold" text-anchor="middle" fill="#000" transform="translate(512.4 125) scale(1 1.06) rotate(90)">***</text>
<text x="0" y="0" font-size="13" font-weight="bold" text-anchor="start" fill="#000" transform="translate(183.6 251) scale(1 1)">D</text>
<text x="0" y="0" font-size="9.8" font-weight="bold" text-anchor="middle" fill="#000" transform="translate(349.8 251.6) scale(1 1.06)">OBI-992 + talazoparib</text>
<line x1="229.6" y1="257.2" x2="240.4" y2="257.2" stroke="#000000" stroke-width="1.2"/>
<path d="M232.8 255L237.2 259.4M232.8 259.4L237.2 255" stroke="#000000" stroke-width="1.1" fill="none"/>
<text x="0" y="0" font-size="8.6" text-anchor="start" fill="#111" transform="translate(246.5 259.9) scale(1 1.06)">Vehicle</text>
<line x1="229.6" y1="269.15" x2="240.4" y2="269.15" stroke="#ff0000" stroke-width="1.2"/>
<rect x="232.6" y="266.75" width="4.8" height="4.8" fill="#ff0000"/>
<text x="0" y="0" font-size="8.6" text-anchor="start" fill="#111" transform="translate(246.5 271.85) scale(1 1.06)">OBI-992 0.3 mg/kg</text>
<line x1="229.6" y1="281.1" x2="240.4" y2="281.1" stroke="#f03ce0" stroke-width="1.2"/>
<circle cx="235" cy="281.1" r="2.5" fill="#f03ce0"/>
<text x="0" y="0" font-size="8.6" text-anchor="start" fill="#111" transform="translate(246.5 283.8) scale(1 1.06)">OBI-992 0.1 mg/kg</text>
<line x1="229.6" y1="293.05" x2="240.4" y2="293.05" stroke="#00b400" stroke-width="1.2"/>
<path d="M235 290.05L237.7 295.21L232.3 295.21Z" fill="#00b400"/>
<text x="0" y="0" font-size="8.6" text-anchor="start" fill="#111" transform="translate(246.5 295.75) scale(1 1.06)">Talazoparib 0.1 mg/kg</text>
<line x1="229.6" y1="305" x2="240.4" y2="305" stroke="#0000ff" stroke-width="1.2"/>
<path d="M235 302.1L237.9 305L235 307.9L232.1 305Z" fill="#0000ff"/>
<text x="0" y="0" font-size="8.6" text-anchor="start" fill="#111" transform="translate(246.5 307.7) scale(1 1.06)">OBI-992 0.3 mg/kg + talazoparib 0.1 mg/kg</text>
<line x1="229.6" y1="316.95" x2="240.4" y2="316.95" stroke="#4499ff" stroke-width="1.2"/>
<path d="M235 319.95L237.7 314.79L232.3 314.79Z" fill="#4499ff"/>
<text x="0" y="0" font-size="8.6" text-anchor="start" fill="#111" transform="translate(246.5 319.65) scale(1 1.06)">OBI-992 0.1 mg/kg + talazoparib 0.1 mg/kg</text>
<path d="M220.8 427.5 L252.06 421.56 L293.74 419.04 L325 426.24 L366.68 424.87 L397.94 426.13 L439.62 423.61" stroke="#4499ff" stroke-width="1.2" fill="none"/>
<line x1="293.74" y1="415.15" x2="293.74" y2="419.04" stroke="#4499ff" stroke-width="1.1"/>
<line x1="291.74" y1="415.15" x2="295.74" y2="415.15" stroke="#4499ff" stroke-width="1.1"/>
<line x1="325" y1="424.19" x2="325" y2="426.24" stroke="#4499ff" stroke-width="1.1"/>
<line x1="323" y1="424.19" x2="327" y2="424.19" stroke="#4499ff" stroke-width="1.1"/>
<line x1="366.68" y1="420.76" x2="366.68" y2="424.87" stroke="#4499ff" stroke-width="1.1"/>
<line x1="364.68" y1="420.76" x2="368.68" y2="420.76" stroke="#4499ff" stroke-width="1.1"/>
<line x1="439.62" y1="418.47" x2="439.62" y2="423.61" stroke="#4499ff" stroke-width="1.1"/>
<line x1="437.62" y1="418.47" x2="441.62" y2="418.47" stroke="#4499ff" stroke-width="1.1"/>
<path d="M220.8 430.5L223.5 425.34L218.1 425.34Z" fill="#4499ff"/>
<path d="M252.06 424.56L254.76 419.4L249.36 419.4Z" fill="#4499ff"/>
<path d="M293.74 422.04L296.44 416.88L291.04 416.88Z" fill="#4499ff"/>
<path d="M325 429.24L327.7 424.08L322.3 424.08Z" fill="#4499ff"/>
<path d="M366.68 427.87L369.38 422.71L363.98 422.71Z" fill="#4499ff"/>
<path d="M397.94 429.13L400.64 423.97L395.24 423.97Z" fill="#4499ff"/>
<path d="M439.62 426.61L442.32 421.45L436.92 421.45Z" fill="#4499ff"/>
<path d="M220.8 427.16 L252.06 418.7 L293.74 423.5 L325 428.65 L366.68 430.7 L397.94 427.73 L439.62 430.02" stroke="#0000ff" stroke-width="1.2" fill="none"/>
<line x1="252.06" y1="414.24" x2="252.06" y2="418.7" stroke="#0000ff" stroke-width="1.1"/>
<line x1="250.06" y1="414.24" x2="254.06" y2="414.24" stroke="#0000ff" stroke-width="1.1"/>
<line x1="397.94" y1="422.58" x2="397.94" y2="427.73" stroke="#0000ff" stroke-width="1.1"/>
<line x1="395.94" y1="422.58" x2="399.94" y2="422.58" stroke="#0000ff" stroke-width="1.1"/>
<path d="M220.8 424.26L223.7 427.16L220.8 430.06L217.9 427.16Z" fill="#0000ff"/>
<path d="M252.06 415.8L254.96 418.7L252.06 421.6L249.16 418.7Z" fill="#0000ff"/>
<path d="M293.74 420.6L296.64 423.5L293.74 426.4L290.84 423.5Z" fill="#0000ff"/>
<path d="M325 425.75L327.9 428.65L325 431.55L322.1 428.65Z" fill="#0000ff"/>
<path d="M366.68 427.8L369.58 430.7L366.68 433.6L363.78 430.7Z" fill="#0000ff"/>
<path d="M397.94 424.83L400.84 427.73L397.94 430.63L395.04 427.73Z" fill="#0000ff"/>
<path d="M439.62 427.12L442.52 430.02L439.62 432.92L436.72 430.02Z" fill="#0000ff"/>
<path d="M220.8 427.16 L252.06 408.52 L293.74 408.29 L325 392.74 L366.68 386.45 L397.94 379.01 L439.62 361.4" stroke="#00b400" stroke-width="1.2" fill="none"/>
<line x1="293.74" y1="405.77" x2="293.74" y2="408.29" stroke="#00b400" stroke-width="1.1"/>
<line x1="291.74" y1="405.77" x2="295.74" y2="405.77" stroke="#00b400" stroke-width="1.1"/>
<line x1="366.68" y1="381.64" x2="366.68" y2="386.45" stroke="#00b400" stroke-width="1.1"/>
<line x1="364.68" y1="381.64" x2="368.68" y2="381.64" stroke="#00b400" stroke-width="1.1"/>
<line x1="397.94" y1="373.75" x2="397.94" y2="379.01" stroke="#00b400" stroke-width="1.1"/>
<line x1="395.94" y1="373.75" x2="399.94" y2="373.75" stroke="#00b400" stroke-width="1.1"/>
<path d="M220.8 424.16L223.5 429.32L218.1 429.32Z" fill="#00b400"/>
<path d="M252.06 405.52L254.76 410.68L249.36 410.68Z" fill="#00b400"/>
<path d="M293.74 405.29L296.44 410.45L291.04 410.45Z" fill="#00b400"/>
<path d="M325 389.74L327.7 394.9L322.3 394.9Z" fill="#00b400"/>
<path d="M366.68 383.45L369.38 388.61L363.98 388.61Z" fill="#00b400"/>
<path d="M397.94 376.01L400.64 381.17L395.24 381.17Z" fill="#00b400"/>
<path d="M439.62 358.4L442.32 363.56L436.92 363.56Z" fill="#00b400"/>
<path d="M220.8 427.16 L252.06 403.94 L293.74 400.28 L325 394.57 L366.68 372.72 L397.94 363.35 L439.62 348.48" stroke="#f03ce0" stroke-width="1.2" fill="none"/>
<line x1="252.06" y1="399.14" x2="252.06" y2="403.94" stroke="#f03ce0" stroke-width="1.1"/>
<line x1="250.06" y1="399.14" x2="254.06" y2="399.14" stroke="#f03ce0" stroke-width="1.1"/>
<line x1="325" y1="388.96" x2="325" y2="394.57" stroke="#f03ce0" stroke-width="1.1"/>
<line x1="323" y1="388.96" x2="327" y2="388.96" stroke="#f03ce0" stroke-width="1.1"/>
<line x1="366.68" y1="366.89" x2="366.68" y2="372.72" stroke="#f03ce0" stroke-width="1.1"/>
<line x1="364.68" y1="366.89" x2="368.68" y2="366.89" stroke="#f03ce0" stroke-width="1.1"/>
<line x1="397.94" y1="354.66" x2="397.94" y2="363.35" stroke="#f03ce0" stroke-width="1.1"/>
<line x1="395.94" y1="354.66" x2="399.94" y2="354.66" stroke="#f03ce0" stroke-width="1.1"/>
<line x1="439.62" y1="337.73" x2="439.62" y2="348.48" stroke="#f03ce0" stroke-width="1.1"/>
<line x1="437.62" y1="337.73" x2="441.62" y2="337.73" stroke="#f03ce0" stroke-width="1.1"/>
<circle cx="220.8" cy="427.16" r="2.5" fill="#f03ce0"/>
<circle cx="252.06" cy="403.94" r="2.5" fill="#f03ce0"/>
<circle cx="293.74" cy="400.28" r="2.5" fill="#f03ce0"/>
<circle cx="325" cy="394.57" r="2.5" fill="#f03ce0"/>
<circle cx="366.68" cy="372.72" r="2.5" fill="#f03ce0"/>
<circle cx="397.94" cy="363.35" r="2.5" fill="#f03ce0"/>
<circle cx="439.62" cy="348.48" r="2.5" fill="#f03ce0"/>
<path d="M220.8 427.16 L252.06 404.63 L293.74 400.4 L325 396.51 L366.68 377.87 L397.94 365.4 L439.62 359.8" stroke="#ff0000" stroke-width="1.2" fill="none"/>
<line x1="293.74" y1="394.57" x2="293.74" y2="400.4" stroke="#ff0000" stroke-width="1.1"/>
<line x1="291.74" y1="394.57" x2="295.74" y2="394.57" stroke="#ff0000" stroke-width="1.1"/>
<line x1="366.68" y1="372.61" x2="366.68" y2="377.87" stroke="#ff0000" stroke-width="1.1"/>
<line x1="364.68" y1="372.61" x2="368.68" y2="372.61" stroke="#ff0000" stroke-width="1.1"/>
<line x1="397.94" y1="356.6" x2="397.94" y2="365.4" stroke="#ff0000" stroke-width="1.1"/>
<line x1="395.94" y1="356.6" x2="399.94" y2="356.6" stroke="#ff0000" stroke-width="1.1"/>
<rect x="218.4" y="424.76" width="4.8" height="4.8" fill="#ff0000"/>
<rect x="249.66" y="402.23" width="4.8" height="4.8" fill="#ff0000"/>
<rect x="291.34" y="398" width="4.8" height="4.8" fill="#ff0000"/>
<rect x="322.6" y="394.11" width="4.8" height="4.8" fill="#ff0000"/>
<rect x="364.28" y="375.47" width="4.8" height="4.8" fill="#ff0000"/>
<rect x="395.54" y="363" width="4.8" height="4.8" fill="#ff0000"/>
<rect x="437.22" y="357.4" width="4.8" height="4.8" fill="#ff0000"/>
<path d="M220.8 427.16 L252.06 404.63 L293.74 391.25 L325 378.79 L366.68 350.31 L397.94 337.73 L439.62 313.6" stroke="#000000" stroke-width="1.2" fill="none"/>
<line x1="252.06" y1="397.88" x2="252.06" y2="404.63" stroke="#000000" stroke-width="1.1"/>
<line x1="250.06" y1="397.88" x2="254.06" y2="397.88" stroke="#000000" stroke-width="1.1"/>
<line x1="293.74" y1="382.67" x2="293.74" y2="391.25" stroke="#000000" stroke-width="1.1"/>
<line x1="291.74" y1="382.67" x2="295.74" y2="382.67" stroke="#000000" stroke-width="1.1"/>
<line x1="325" y1="370.78" x2="325" y2="378.79" stroke="#000000" stroke-width="1.1"/>
<line x1="323" y1="370.78" x2="327" y2="370.78" stroke="#000000" stroke-width="1.1"/>
<line x1="366.68" y1="334.99" x2="366.68" y2="350.31" stroke="#000000" stroke-width="1.1"/>
<line x1="364.68" y1="334.99" x2="368.68" y2="334.99" stroke="#000000" stroke-width="1.1"/>
<line x1="397.94" y1="323.66" x2="397.94" y2="337.73" stroke="#000000" stroke-width="1.1"/>
<line x1="395.94" y1="323.66" x2="399.94" y2="323.66" stroke="#000000" stroke-width="1.1"/>
<line x1="439.62" y1="290.16" x2="439.62" y2="313.6" stroke="#000000" stroke-width="1.1"/>
<line x1="437.62" y1="290.16" x2="441.62" y2="290.16" stroke="#000000" stroke-width="1.1"/>
<path d="M218.6 424.96L223 429.36M218.6 429.36L223 424.96" stroke="#000000" stroke-width="1.1" fill="none"/>
<path d="M249.86 402.43L254.26 406.83M249.86 406.83L254.26 402.43" stroke="#000000" stroke-width="1.1" fill="none"/>
<path d="M291.54 389.05L295.94 393.45M291.54 393.45L295.94 389.05" stroke="#000000" stroke-width="1.1" fill="none"/>
<path d="M322.8 376.59L327.2 380.99M322.8 380.99L327.2 376.59" stroke="#000000" stroke-width="1.1" fill="none"/>
<path d="M364.48 348.11L368.88 352.51M364.48 352.51L368.88 348.11" stroke="#000000" stroke-width="1.1" fill="none"/>
<path d="M395.74 335.53L400.14 339.93M395.74 339.93L400.14 335.53" stroke="#000000" stroke-width="1.1" fill="none"/>
<path d="M437.42 311.4L441.82 315.8M437.42 315.8L441.82 311.4" stroke="#000000" stroke-width="1.1" fill="none"/>
<line x1="220.8" y1="285.2" x2="220.8" y2="448.3" stroke="#000" stroke-width="1.2"/>
<line x1="220.2" y1="445.8" x2="460.4" y2="445.8" stroke="#000" stroke-width="1.2"/>
<line x1="217.6" y1="445.8" x2="220.8" y2="445.8" stroke="#000" stroke-width="1.1"/>
<text x="0" y="0" font-size="8.4" font-weight="bold" text-anchor="end" fill="#000" transform="translate(216.4 448.8) scale(1 1.06)">0</text>
<line x1="217.6" y1="422.93" x2="220.8" y2="422.93" stroke="#000" stroke-width="1.1"/>
<text x="0" y="0" font-size="8.4" font-weight="bold" text-anchor="end" fill="#000" transform="translate(216.4 425.93) scale(1 1.06)">200</text>
<line x1="217.6" y1="400.06" x2="220.8" y2="400.06" stroke="#000" stroke-width="1.1"/>
<text x="0" y="0" font-size="8.4" font-weight="bold" text-anchor="end" fill="#000" transform="translate(216.4 403.06) scale(1 1.06)">400</text>
<line x1="217.6" y1="377.18" x2="220.8" y2="377.18" stroke="#000" stroke-width="1.1"/>
<text x="0" y="0" font-size="8.4" font-weight="bold" text-anchor="end" fill="#000" transform="translate(216.4 380.18) scale(1 1.06)">600</text>
<line x1="217.6" y1="354.31" x2="220.8" y2="354.31" stroke="#000" stroke-width="1.1"/>
<text x="0" y="0" font-size="8.4" font-weight="bold" text-anchor="end" fill="#000" transform="translate(216.4 357.31) scale(1 1.06)">800</text>
<line x1="217.6" y1="331.44" x2="220.8" y2="331.44" stroke="#000" stroke-width="1.1"/>
<text x="0" y="0" font-size="8.4" font-weight="bold" text-anchor="end" fill="#000" transform="translate(216.4 334.44) scale(1 1.06)">1,000</text>
<line x1="217.6" y1="308.57" x2="220.8" y2="308.57" stroke="#000" stroke-width="1.1"/>
<text x="0" y="0" font-size="8.4" font-weight="bold" text-anchor="end" fill="#000" transform="translate(216.4 311.57) scale(1 1.06)">1,200</text>
<line x1="217.6" y1="285.7" x2="220.8" y2="285.7" stroke="#000" stroke-width="1.1"/>
<text x="0" y="0" font-size="8.4" font-weight="bold" text-anchor="end" fill="#000" transform="translate(216.4 288.7) scale(1 1.06)">1,400</text>
<line x1="220.8" y1="445.8" x2="220.8" y2="448.4" stroke="#000" stroke-width="1.1"/>
<text x="0" y="0" font-size="8.2" font-weight="bold" text-anchor="middle" fill="#000" transform="translate(220.8 458.1) scale(1 1.06)">1</text>
<line x1="252.06" y1="445.8" x2="252.06" y2="448.4" stroke="#000" stroke-width="1.1"/>
<text x="0" y="0" font-size="8.2" font-weight="bold" text-anchor="middle" fill="#000" transform="translate(252.06 458.1) scale(1 1.06)">4</text>
<line x1="293.74" y1="445.8" x2="293.74" y2="448.4" stroke="#000" stroke-width="1.1"/>
<text x="0" y="0" font-size="8.2" font-weight="bold" text-anchor="middle" fill="#000" transform="translate(293.74 458.1) scale(1 1.06)">8</text>
<line x1="325" y1="445.8" x2="325" y2="448.4" stroke="#000" stroke-width="1.1"/>
<text x="0" y="0" font-size="8.2" font-weight="bold" text-anchor="middle" fill="#000" transform="translate(325 458.1) scale(1 1.06)">11</text>
<line x1="366.68" y1="445.8" x2="366.68" y2="448.4" stroke="#000" stroke-width="1.1"/>
<text x="0" y="0" font-size="8.2" font-weight="bold" text-anchor="middle" fill="#000" transform="translate(366.68 458.1) scale(1 1.06)">15</text>
<line x1="397.94" y1="445.8" x2="397.94" y2="448.4" stroke="#000" stroke-width="1.1"/>
<text x="0" y="0" font-size="8.2" font-weight="bold" text-anchor="middle" fill="#000" transform="translate(397.94 458.1) scale(1 1.06)">18</text>
<line x1="439.62" y1="445.8" x2="439.62" y2="448.4" stroke="#000" stroke-width="1.1"/>
<text x="0" y="0" font-size="8.2" font-weight="bold" text-anchor="middle" fill="#000" transform="translate(439.62 458.1) scale(1 1.06)">22</text>
<text x="0" y="0" font-size="8.11" font-weight="bold" text-anchor="middle" fill="#000" transform="translate(191.6 367.2) scale(1 1.06) rotate(-90)">Tumor volume (mm<tspan font-size="5.6" dy="-3.2">3</tspan><tspan dy="3.2">)</tspan></text>
<text x="0" y="0" font-size="8.55" font-weight="bold" text-anchor="middle" fill="#000" transform="translate(347.6 468) scale(1 1.06)">Days after treatment</text>
<text x="0" y="0" font-size="8.5" text-anchor="start" fill="#222" transform="translate(456.9 293.9) scale(1 1.06)" textLength="12.4" lengthAdjust="spacingAndGlyphs">TGI</text>
<text x="0" y="0" font-size="7.8" text-anchor="start" fill="#f03ce0" transform="translate(453.6 348.6) scale(1 1.06)" textLength="14.7" lengthAdjust="spacingAndGlyphs">31%</text>
<text x="0" y="0" font-size="7.8" text-anchor="start" fill="#ff0000" transform="translate(453.6 356.3) scale(1 1.06)" textLength="14.7" lengthAdjust="spacingAndGlyphs">40%</text>
<text x="0" y="0" font-size="7.8" text-anchor="start" fill="#00b400" transform="translate(453.6 363.5) scale(1 1.06)" textLength="14.7" lengthAdjust="spacingAndGlyphs">41%</text>
<text x="0" y="0" font-size="7.8" text-anchor="start" fill="#4499ff" transform="translate(453.6 423.3) scale(1 1.06)" textLength="14.7" lengthAdjust="spacingAndGlyphs">97%</text>
<text x="0" y="0" font-size="7.8" text-anchor="start" fill="#0000ff" transform="translate(450.4 432.8) scale(1 1.06)" textLength="17.9" lengthAdjust="spacingAndGlyphs">103%</text>
<path d="M473.4 346.9H476.3V420.9H473.4" stroke="#000" stroke-width="1.1" fill="none"/>
<text x="0" y="0" font-size="8.3" font-weight="bold" text-anchor="middle" fill="#000" transform="translate(476.9 377.7) scale(1 1.06) rotate(90)">***</text>
<path d="M483.7 353.4H486.8V429.7H483.7" stroke="#000" stroke-width="1.1" fill="none"/>
<text x="0" y="0" font-size="8.3" font-weight="bold" text-anchor="middle" fill="#000" transform="translate(487.2 390.7) scale(1 1.06) rotate(90)">***</text>
<path d="M497.2 312.3H500.6V420.9H497.2" stroke="#000" stroke-width="1.1" fill="none"/>
<text x="0" y="0" font-size="8.3" font-weight="bold" text-anchor="middle" fill="#000" transform="translate(502.4 362.4) scale(1 1.06) rotate(90)">***</text>
<path d="M510.2 312.3H513.5V429.7H510.2" stroke="#000" stroke-width="1.1" fill="none"/>
<text x="0" y="0" font-size="8.3" font-weight="bold" text-anchor="middle" fill="#000" transform="translate(514.5 364.3) scale(1 1.06) rotate(90)">***</text>
<text x="0" y="0" font-size="12" font-weight="bold" text-anchor="start" fill="#000" transform="translate(184.2 490.8) scale(1 1)">E</text>
<text x="0" y="0" font-size="9.8" font-weight="bold" text-anchor="middle" fill="#000" transform="translate(350 491.2) scale(1 1.06)">OBI-992 + anti-PD-1</text>
<line x1="230.1" y1="502.3" x2="241.9" y2="502.3" stroke="#000000" stroke-width="1.2"/>
<path d="M233.8 500.1L238.2 504.5M233.8 504.5L238.2 500.1" stroke="#000000" stroke-width="1.1" fill="none"/>
<text x="0" y="0" font-size="8.6" text-anchor="start" fill="#111" transform="translate(248.6 505) scale(1 1.06)">Vehicle</text>
<line x1="230.1" y1="515.27" x2="241.9" y2="515.27" stroke="#ff0000" stroke-width="1.2"/>
<rect x="233.6" y="512.87" width="4.8" height="4.8" fill="#ff0000"/>
<text x="0" y="0" font-size="8.6" text-anchor="start" fill="#111" transform="translate(248.6 517.97) scale(1 1.06)">OBI-992 3 mg/kg</text>
<line x1="230.1" y1="528.24" x2="241.9" y2="528.24" stroke="#00b400" stroke-width="1.2"/>
<path d="M236 525.24L238.7 530.4L233.3 530.4Z" fill="#00b400"/>
<text x="0" y="0" font-size="8.6" text-anchor="start" fill="#111" transform="translate(248.6 530.94) scale(1 1.06)">Anti-PD-1 5 mg/kg</text>
<line x1="230.1" y1="541.21" x2="241.9" y2="541.21" stroke="#0000ff" stroke-width="1.2"/>
<path d="M236 538.31L238.9 541.21L236 544.11L233.1 541.21Z" fill="#0000ff"/>
<text x="0" y="0" font-size="8.6" text-anchor="start" fill="#111" transform="translate(248.6 543.91) scale(1 1.06)">OBI-992 3 mg/kg + anti-PD-1 5 mg/kg</text>
<path d="M223.3 647.71 L283.75 643.28 L364.35 632.48 L424.8 619.99" stroke="#0000ff" stroke-width="1.2" fill="none"/>
<line x1="283.75" y1="638.61" x2="283.75" y2="643.28" stroke="#0000ff" stroke-width="1.1"/>
<line x1="281.75" y1="638.61" x2="285.75" y2="638.61" stroke="#0000ff" stroke-width="1.1"/>
<line x1="364.35" y1="627.89" x2="364.35" y2="632.48" stroke="#0000ff" stroke-width="1.1"/>
<line x1="362.35" y1="627.89" x2="366.35" y2="627.89" stroke="#0000ff" stroke-width="1.1"/>
<line x1="424.8" y1="608.42" x2="424.8" y2="619.99" stroke="#0000ff" stroke-width="1.1"/>
<line x1="422.8" y1="608.42" x2="426.8" y2="608.42" stroke="#0000ff" stroke-width="1.1"/>
<path d="M223.3 644.81L226.2 647.71L223.3 650.61L220.4 647.71Z" fill="#0000ff"/>
<path d="M283.75 640.38L286.65 643.28L283.75 646.18L280.85 643.28Z" fill="#0000ff"/>
<path d="M364.35 629.58L367.25 632.48L364.35 635.38L361.45 632.48Z" fill="#0000ff"/>
<path d="M424.8 617.09L427.7 619.99L424.8 622.89L421.9 619.99Z" fill="#0000ff"/>
<path d="M223.3 647.71 L283.75 634.01 L364.35 604.51 L424.8 553.01" stroke="#ff0000" stroke-width="1.2" fill="none"/>
<line x1="364.35" y1="591.21" x2="364.35" y2="604.51" stroke="#ff0000" stroke-width="1.1"/>
<line x1="362.35" y1="591.21" x2="366.35" y2="591.21" stroke="#ff0000" stroke-width="1.1"/>
<line x1="424.8" y1="526.01" x2="424.8" y2="553.01" stroke="#ff0000" stroke-width="1.1"/>
<line x1="422.8" y1="526.01" x2="426.8" y2="526.01" stroke="#ff0000" stroke-width="1.1"/>
<rect x="220.9" y="645.31" width="4.8" height="4.8" fill="#ff0000"/>
<rect x="281.35" y="631.61" width="4.8" height="4.8" fill="#ff0000"/>
<rect x="361.95" y="602.11" width="4.8" height="4.8" fill="#ff0000"/>
<rect x="422.4" y="550.61" width="4.8" height="4.8" fill="#ff0000"/>
<path d="M223.3 647.71 L283.75 629.42 L364.35 603.58 L424.8 559.9" stroke="#00b400" stroke-width="1.2" fill="none"/>
<line x1="283.75" y1="624.82" x2="283.75" y2="629.42" stroke="#00b400" stroke-width="1.1"/>
<line x1="281.75" y1="624.82" x2="285.75" y2="624.82" stroke="#00b400" stroke-width="1.1"/>
<line x1="364.35" y1="595.89" x2="364.35" y2="603.58" stroke="#00b400" stroke-width="1.1"/>
<line x1="362.35" y1="595.89" x2="366.35" y2="595.89" stroke="#00b400" stroke-width="1.1"/>
<path d="M223.3 644.71L226 649.87L220.6 649.87Z" fill="#00b400"/>
<path d="M283.75 626.42L286.45 631.58L281.05 631.58Z" fill="#00b400"/>
<path d="M364.35 600.58L367.05 605.74L361.65 605.74Z" fill="#00b400"/>
<path d="M424.8 556.9L427.5 562.06L422.1 562.06Z" fill="#00b400"/>
<path d="M223.3 647.71 L283.75 631.03 L364.35 601.69 L424.8 573.12" stroke="#000000" stroke-width="1.2" fill="none"/>
<line x1="364.35" y1="588.39" x2="364.35" y2="601.69" stroke="#000000" stroke-width="1.1"/>
<line x1="362.35" y1="588.39" x2="366.35" y2="588.39" stroke="#000000" stroke-width="1.1"/>
<line x1="424.8" y1="557.32" x2="424.8" y2="573.12" stroke="#000000" stroke-width="1.1"/>
<line x1="422.8" y1="557.32" x2="426.8" y2="557.32" stroke="#000000" stroke-width="1.1"/>
<path d="M221.1 645.51L225.5 649.91M221.1 649.91L225.5 645.51" stroke="#000000" stroke-width="1.1" fill="none"/>
<path d="M281.55 628.83L285.95 633.23M281.55 633.23L285.95 628.83" stroke="#000000" stroke-width="1.1" fill="none"/>
<path d="M362.15 599.49L366.55 603.89M362.15 603.89L366.55 599.49" stroke="#000000" stroke-width="1.1" fill="none"/>
<path d="M422.6 570.92L427 575.32M422.6 575.32L427 570.92" stroke="#000000" stroke-width="1.1" fill="none"/>
<line x1="223.3" y1="497.7" x2="223.3" y2="661.9" stroke="#000" stroke-width="1.2"/>
<line x1="222.7" y1="659.4" x2="465.7" y2="659.4" stroke="#000" stroke-width="1.2"/>
<line x1="220.1" y1="659.4" x2="223.3" y2="659.4" stroke="#000" stroke-width="1.1"/>
<text x="0" y="0" font-size="8.4" font-weight="bold" text-anchor="end" fill="#000" transform="translate(219 662.4) scale(1 1.06)">0</text>
<line x1="220.1" y1="619.1" x2="223.3" y2="619.1" stroke="#000" stroke-width="1.1"/>
<text x="0" y="0" font-size="8.4" font-weight="bold" text-anchor="end" fill="#000" transform="translate(219 622.1) scale(1 1.06)">1,000</text>
<line x1="220.1" y1="578.8" x2="223.3" y2="578.8" stroke="#000" stroke-width="1.1"/>
<text x="0" y="0" font-size="8.4" font-weight="bold" text-anchor="end" fill="#000" transform="translate(219 581.8) scale(1 1.06)">2,000</text>
<line x1="220.1" y1="538.5" x2="223.3" y2="538.5" stroke="#000" stroke-width="1.1"/>
<text x="0" y="0" font-size="8.4" font-weight="bold" text-anchor="end" fill="#000" transform="translate(219 541.5) scale(1 1.06)">3,000</text>
<line x1="220.1" y1="498.2" x2="223.3" y2="498.2" stroke="#000" stroke-width="1.1"/>
<text x="0" y="0" font-size="8.4" font-weight="bold" text-anchor="end" fill="#000" transform="translate(219 501.2) scale(1 1.06)">4,000</text>
<line x1="223.3" y1="659.4" x2="223.3" y2="662" stroke="#000" stroke-width="1.1"/>
<text x="0" y="0" font-size="8.2" font-weight="bold" text-anchor="middle" fill="#000" transform="translate(223.3 671.7) scale(1 1.06)">1</text>
<line x1="283.75" y1="659.4" x2="283.75" y2="662" stroke="#000" stroke-width="1.1"/>
<text x="0" y="0" font-size="8.2" font-weight="bold" text-anchor="middle" fill="#000" transform="translate(283.75 671.7) scale(1 1.06)">4</text>
<line x1="364.35" y1="659.4" x2="364.35" y2="662" stroke="#000" stroke-width="1.1"/>
<text x="0" y="0" font-size="8.2" font-weight="bold" text-anchor="middle" fill="#000" transform="translate(364.35 671.7) scale(1 1.06)">8</text>
<line x1="424.8" y1="659.4" x2="424.8" y2="662" stroke="#000" stroke-width="1.1"/>
<text x="0" y="0" font-size="8.2" font-weight="bold" text-anchor="middle" fill="#000" transform="translate(424.8 671.7) scale(1 1.06)">11</text>
<text x="0" y="0" font-size="8.11" font-weight="bold" text-anchor="middle" fill="#000" transform="translate(191.6 582.3) scale(1 1.06) rotate(-90)">Tumor volume (mm<tspan font-size="5.6" dy="-3.2">3</tspan><tspan dy="3.2">)</tspan></text>
<text x="0" y="0" font-size="8.55" font-weight="bold" text-anchor="middle" fill="#000" transform="translate(347.4 682.4) scale(1 1.06)">Days after treatment</text>
<text x="0" y="0" font-size="8.8" text-anchor="start" fill="#111" transform="translate(437 506.6) scale(1 1.06)">TGI</text>
<text x="0" y="0" font-size="8.8" text-anchor="start" fill="#2626ff" transform="translate(433.6 621.6) scale(1 1.06)">62%</text>
<path d="M454.2 558.1H457.7V617.3H454.2" stroke="#000" stroke-width="1.1" fill="none"/>
<polygon points="462.8,586.3 463.54,587.38 464.8,587.75 464,588.79 464.03,590.1 462.8,589.66 461.57,590.1 461.6,588.79 460.8,587.75 462.06,587.38" fill="#000"/>
<path d="M467.9 551H471.4V617.3H467.9" stroke="#000" stroke-width="1.1" fill="none"/>
<polygon points="477.2,582.8 477.94,583.88 479.2,584.25 478.4,585.29 478.43,586.6 477.2,586.16 475.97,586.6 476,585.29 475.2,584.25 476.46,583.88" fill="#000"/>
</svg>
</body></html>
